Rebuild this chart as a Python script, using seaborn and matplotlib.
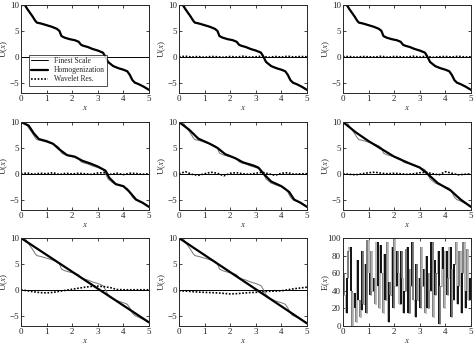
import matplotlib
matplotlib.use("Agg")
import matplotlib.pyplot as plt
import numpy as np
import seaborn as sns

# finest scale solution U(x)
fine_x = [0, 0.15, 0.25, 0.35, 0.45, 0.55, 0.62, 0.8, 1.0, 1.2, 1.4, 1.5, 1.58, 1.7, 1.9, 2.1,
          2.25, 2.35, 2.45, 2.6, 2.8, 3.0, 3.2, 3.3, 3.4, 3.5, 3.6, 3.8, 4.0, 4.15, 4.25, 4.35,
          4.45, 4.6, 4.8, 5.0]
fine_u = [10, 10, 9.2, 8.5, 7.8, 7.0, 6.6, 6.4, 6.1, 5.8, 5.4, 5.0, 4.0, 3.7, 3.4, 3.2,
          2.9, 2.3, 2.1, 1.9, 1.5, 1.2, 0.8, 0.0, -1.0, -1.4, -1.8, -2.2, -2.5, -2.8, -3.5, -4.5,
          -5.0, -5.3, -5.8, -6.4]

# residual grid
res_x = [0, 0.25, 0.5, 0.75, 1.0, 1.25, 1.5, 1.75, 2.0, 2.25, 2.5, 2.75, 3.0, 3.25, 3.5, 3.75,
         4.0, 4.25, 4.5, 4.75, 5.0]

# homogenized solutions per level
hom4_x = [0, 0.3, 0.5, 0.7, 1.0, 1.25, 1.5, 1.8, 2.1, 2.4, 2.7, 3.0, 3.3, 3.45, 3.7, 4.0, 4.2, 4.5, 4.75, 5.0]
hom4_u = [10, 9.3, 7.8, 6.7, 6.3, 5.8, 4.7, 3.6, 3.3, 2.5, 2.0, 1.4, 0.6, -0.8, -2.0, -2.4, -3.3, -5.0, -5.6, -6.4]
hom5_x = [0, 0.4, 0.75, 1.2, 1.5, 1.8, 2.2, 2.5, 2.9, 3.1, 3.3, 3.6, 4.0, 4.3, 4.5, 4.75, 5.0]
hom5_u = [10, 8.5, 6.8, 5.8, 5.0, 3.8, 3.0, 2.2, 1.6, 1.2, 0.0, -1.5, -2.4, -3.5, -5.0, -5.6, -6.4]
hom6_x = [0, 0.5, 1.0, 1.5, 2.0, 2.5, 3.0, 3.3, 3.7, 4.2, 4.6, 5.0]
hom6_u = [10, 8.0, 6.3, 4.8, 3.3, 2.2, 1.2, 0.0, -1.8, -3.2, -5.0, -6.4]
hom7_x = [0, 5.0]
hom7_u = [10, -6.3]
hom8_x = [0, 5.0]
hom8_u = [10, -6.5]

# wavelet residuals
res2 = [0, 0.1, -0.05, 0.05, -0.1, 0.05, 0, -0.1, 0.05, -0.05, 0.1, -0.05, 0, 0.1, -0.1, 0.05, -0.05, 0.1, -0.05, 0.05, 0]
res3 = [0, 0.05, -0.1, 0.05, 0, -0.05, 0.1, -0.1, 0.05, 0, -0.05, 0.1, -0.05, 0.1, -0.1, 0, 0.05, -0.05, 0.1, -0.05, 0]
res4 = [0, 0.15, -0.1, 0.1, 0, 0.2, -0.15, 0.1, -0.05, 0.1, 0, -0.1, 0.15, 0.2, -0.1, 0.1, -0.15, 0.1, 0.05, -0.1, 0]
res5 = [0, 0.4, -0.1, -0.3, 0, 0.3, 0.1, -0.4, 0.1, 0.2, 0, -0.1, 0.1, 0.3, 0, -0.3, 0.1, 0.2, -0.1, 0, 0]
res6 = [0, -0.1, -0.2, 0, 0.2, 0.3, 0.1, 0, 0.1, 0, -0.1, 0, 0.2, 0.3, 0, -0.2, 0.4, 0.1, -0.2, -0.1, 0]
res7 = [0, -0.2, -0.4, -0.55, -0.6, -0.5, -0.3, -0.1, 0.1, 0.3, 0.5, 0.65, 0.7, 0.6, 0.4, 0.05, 0, 0, 0, 0, 0]
res8 = [-0.2, -0.25, -0.35, -0.45, -0.5, -0.55, -0.6, -0.7, -0.8, -0.75, -0.65, -0.55, -0.5, -0.4, -0.3, -0.25, -0.2, 0, 0.2, 0.35, 0.5]

# coefficient E(x), piecewise constant, step 0.05
coef_e = [60, 35, 15, 55, 85, 90, 40, 0, 38, 20, 5, 75, 30, 10, 18, 85, 25, 70, 15, 98,
          60, 35, 85, 40, 55, 25, 95, 45, 20, 92, 60, 15, 82, 30, 95, 5, 50, 35, 90, 20,
          100, 45, 85, 60, 25, 85, 55, 15, 40, 88, 90, 15, 65, 45, 95, 30, 10, 70, 30, 55,
          20, 90, 45, 65, 15, 80, 20, 60, 40, 95, 10, 75, 35, 60, 85, 2, 45, 90, 65, 20,
          85, 35, 55, 90, 10, 65, 30, 70, 95, 25, 45, 85, 15, 60, 95, 20, 40, 88, 30, 55]

panels = [
    (fine_x, fine_u, None),
    (fine_x, fine_u, res2),
    (fine_x, fine_u, res3),
    (hom4_x, hom4_u, res4),
    (hom5_x, hom5_u, res5),
    (hom6_x, hom6_u, res6),
    (hom7_x, hom7_u, res7),
    (hom8_x, hom8_u, res8),
]

sns.set_style("ticks")
plt.rcParams["font.family"] = ["Liberation Serif", "DejaVu Serif"]
plt.rcParams["mathtext.fontset"] = "stix"

W, H = 474, 346
fig = plt.figure(figsize=(W / 100, H / 100), dpi=100)
lefts = [21, 179, 343]
tops = [5, 122, 238]
aw, ah = 128, 88

axes = []
for r in range(3):
    for c in range(3):
        ax = fig.add_axes([lefts[c] / W, (H - tops[r] - ah) / H, aw / W, ah / H])
        axes.append(ax)

for i, (hx, hu, res) in enumerate(panels):
    ax = axes[i]
    ax.axhline(0, color="black", lw=0.7)
    sns.lineplot(x=fine_x, y=fine_u, ax=ax, color="0.45" if i >= 3 else "black", lw=0.7,
                 label="Finest Scale" if i == 0 else None, sort=False)
    sns.lineplot(x=hx, y=hu, ax=ax, color="black", lw=1.6,
                 label="Homogenization" if i == 0 else None, sort=False)
    if res is not None:
        sns.lineplot(x=res_x, y=res, ax=ax, color="black", lw=1.2, linestyle=(0, (1, 1)), sort=False)
    else:
        ax.plot([], [], color="black", lw=1.2, linestyle=(0, (1, 1)), label="Wavelet Res.")
    ax.set_xlim(0, 5)
    ax.set_ylim(-7, 10)
    ax.set_yticks([-5, 0, 5, 10])
    ax.set_ylabel("U($x$)", fontsize=6.5)

axes[0].legend(loc="lower left", bbox_to_anchor=(0.03, 0.04), fontsize=5.5, frameon=True,
               fancybox=False, edgecolor="black", handlelength=2.2, borderpad=0.3,
               labelspacing=0.15)
axes[0].get_legend().get_frame().set_linewidth(0.6)

# E(x) panel
ax = axes[8]
grays = ["black", "0.45", "0.7"]
ex = np.arange(len(coef_e)) * 0.05
for k, v in enumerate(coef_e):
    col = grays[k % 3]
    ax.hlines(v, ex[k], ex[k] + 0.05, color="0.35", lw=0.5)
    if k > 0:
        ax.vlines(ex[k], coef_e[k - 1], v, color=col, lw=1.3)
ax.set_xlim(0, 5)
ax.set_ylim(0, 100)
ax.set_yticks([0, 20, 40, 60, 80, 100])
ax.set_ylabel("E($x$)", fontsize=6.5)

for ax in axes:
    ax.set_xticks([0, 1, 2, 3, 4, 5])
    ax.set_xlabel("$x$", fontsize=6.5)
    ax.xaxis.set_label_coords(0.5, -0.125)
    ax.yaxis.set_label_coords(-0.085, 0.5)
    ax.tick_params(direction="in", top=True, right=True, labelsize=6.5, length=2, width=0.6, pad=1.5)
    for s in ax.spines.values():
        s.set_linewidth(0.7)

fig.savefig("out.png", dpi=100)
